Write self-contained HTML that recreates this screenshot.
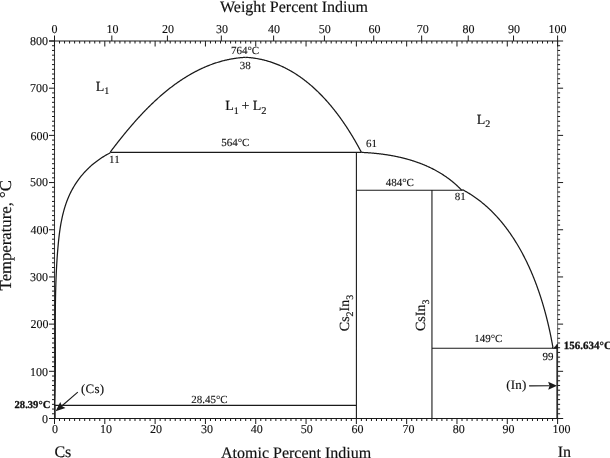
<!DOCTYPE html>
<html><head><meta charset="utf-8"><style>
html,body{margin:0;padding:0;background:#fff;width:610px;height:458px;overflow:hidden}
svg{display:block}
text{font-family:"Liberation Serif","Times New Roman",serif;fill:#111;stroke:#111;text-rendering:geometricPrecision}
</style></head><body>
<svg width="610" height="458" viewBox="0 0 610 458">
<path d="M54.5,41.0V418.5" stroke="#333" stroke-width="1.05" fill="none"/>
<path d="M557.6,41.0V418.5" stroke="#707070" stroke-width="1.05" fill="none"/>
<path d="M557.1,344.59V418.5" stroke="#1a1a1a" stroke-width="1.4" fill="none"/>
<path d="M55.1,405V418.5" stroke="#1a1a1a" stroke-width="1.2" fill="none"/>
<path d="M49.0,41.0H557.6M49.0,418.5H563.1" stroke="#1a1a1a" stroke-width="1.05" fill="none"/>
<path d="M54.50,418.5v5.5 M54.50,41.0v5.5 M59.53,418.5v2.5 M59.53,41.0v2.5 M64.56,418.5v2.5 M64.56,41.0v2.5 M69.59,418.5v2.5 M69.59,41.0v2.5 M74.62,418.5v2.5 M74.62,41.0v2.5 M79.66,418.5v2.5 M79.66,41.0v2.5 M84.69,418.5v2.5 M84.69,41.0v2.5 M89.72,418.5v2.5 M89.72,41.0v2.5 M94.75,418.5v2.5 M94.75,41.0v2.5 M99.78,418.5v2.5 M99.78,41.0v2.5 M104.81,418.5v5.5 M104.81,41.0v5.5 M109.84,418.5v2.5 M109.84,41.0v2.5 M114.87,418.5v2.5 M114.87,41.0v2.5 M119.90,418.5v2.5 M119.90,41.0v2.5 M124.93,418.5v2.5 M124.93,41.0v2.5 M129.97,418.5v2.5 M129.97,41.0v2.5 M135.00,418.5v2.5 M135.00,41.0v2.5 M140.03,418.5v2.5 M140.03,41.0v2.5 M145.06,418.5v2.5 M145.06,41.0v2.5 M150.09,418.5v2.5 M150.09,41.0v2.5 M155.12,418.5v5.5 M155.12,41.0v5.5 M160.15,418.5v2.5 M160.15,41.0v2.5 M165.18,418.5v2.5 M165.18,41.0v2.5 M170.21,418.5v2.5 M170.21,41.0v2.5 M175.24,418.5v2.5 M175.24,41.0v2.5 M180.28,418.5v2.5 M180.28,41.0v2.5 M185.31,418.5v2.5 M185.31,41.0v2.5 M190.34,418.5v2.5 M190.34,41.0v2.5 M195.37,418.5v2.5 M195.37,41.0v2.5 M200.40,418.5v2.5 M200.40,41.0v2.5 M205.43,418.5v5.5 M205.43,41.0v5.5 M210.46,418.5v2.5 M210.46,41.0v2.5 M215.49,418.5v2.5 M215.49,41.0v2.5 M220.52,418.5v2.5 M220.52,41.0v2.5 M225.55,418.5v2.5 M225.55,41.0v2.5 M230.59,418.5v2.5 M230.59,41.0v2.5 M235.62,418.5v2.5 M235.62,41.0v2.5 M240.65,418.5v2.5 M240.65,41.0v2.5 M245.68,418.5v2.5 M245.68,41.0v2.5 M250.71,418.5v2.5 M250.71,41.0v2.5 M255.74,418.5v5.5 M255.74,41.0v5.5 M260.77,418.5v2.5 M260.77,41.0v2.5 M265.80,418.5v2.5 M265.80,41.0v2.5 M270.83,418.5v2.5 M270.83,41.0v2.5 M275.86,418.5v2.5 M275.86,41.0v2.5 M280.89,418.5v2.5 M280.89,41.0v2.5 M285.93,418.5v2.5 M285.93,41.0v2.5 M290.96,418.5v2.5 M290.96,41.0v2.5 M295.99,418.5v2.5 M295.99,41.0v2.5 M301.02,418.5v2.5 M301.02,41.0v2.5 M306.05,418.5v5.5 M306.05,41.0v5.5 M311.08,418.5v2.5 M311.08,41.0v2.5 M316.11,418.5v2.5 M316.11,41.0v2.5 M321.14,418.5v2.5 M321.14,41.0v2.5 M326.17,418.5v2.5 M326.17,41.0v2.5 M331.20,418.5v2.5 M331.20,41.0v2.5 M336.24,418.5v2.5 M336.24,41.0v2.5 M341.27,418.5v2.5 M341.27,41.0v2.5 M346.30,418.5v2.5 M346.30,41.0v2.5 M351.33,418.5v2.5 M351.33,41.0v2.5 M356.36,418.5v5.5 M356.36,41.0v5.5 M361.39,418.5v2.5 M361.39,41.0v2.5 M366.42,418.5v2.5 M366.42,41.0v2.5 M371.45,418.5v2.5 M371.45,41.0v2.5 M376.48,418.5v2.5 M376.48,41.0v2.5 M381.51,418.5v2.5 M381.51,41.0v2.5 M386.55,418.5v2.5 M386.55,41.0v2.5 M391.58,418.5v2.5 M391.58,41.0v2.5 M396.61,418.5v2.5 M396.61,41.0v2.5 M401.64,418.5v2.5 M401.64,41.0v2.5 M406.67,418.5v5.5 M406.67,41.0v5.5 M411.70,418.5v2.5 M411.70,41.0v2.5 M416.73,418.5v2.5 M416.73,41.0v2.5 M421.76,418.5v2.5 M421.76,41.0v2.5 M426.79,418.5v2.5 M426.79,41.0v2.5 M431.82,418.5v2.5 M431.82,41.0v2.5 M436.86,418.5v2.5 M436.86,41.0v2.5 M441.89,418.5v2.5 M441.89,41.0v2.5 M446.92,418.5v2.5 M446.92,41.0v2.5 M451.95,418.5v2.5 M451.95,41.0v2.5 M456.98,418.5v5.5 M456.98,41.0v5.5 M462.01,418.5v2.5 M462.01,41.0v2.5 M467.04,418.5v2.5 M467.04,41.0v2.5 M472.07,418.5v2.5 M472.07,41.0v2.5 M477.10,418.5v2.5 M477.10,41.0v2.5 M482.13,418.5v2.5 M482.13,41.0v2.5 M487.17,418.5v2.5 M487.17,41.0v2.5 M492.20,418.5v2.5 M492.20,41.0v2.5 M497.23,418.5v2.5 M497.23,41.0v2.5 M502.26,418.5v2.5 M502.26,41.0v2.5 M507.29,418.5v5.5 M507.29,41.0v5.5 M512.32,418.5v2.5 M512.32,41.0v2.5 M517.35,418.5v2.5 M517.35,41.0v2.5 M522.38,418.5v2.5 M522.38,41.0v2.5 M527.41,418.5v2.5 M527.41,41.0v2.5 M532.44,418.5v2.5 M532.44,41.0v2.5 M537.48,418.5v2.5 M537.48,41.0v2.5 M542.51,418.5v2.5 M542.51,41.0v2.5 M547.54,418.5v2.5 M547.54,41.0v2.5 M552.57,418.5v2.5 M552.57,41.0v2.5 M557.60,418.5v5.5 M557.60,41.0v5.5 M54.50,41.0v-5.5 M111.83,41.0v-5.5 M167.41,41.0v-5.5 M221.32,41.0v-5.5 M273.63,41.0v-5.5 M324.42,41.0v-5.5 M373.74,41.0v-5.5 M421.66,41.0v-5.5 M468.24,41.0v-5.5 M513.54,41.0v-5.5 M557.60,41.0v-5.5 M54.5,418.50h-5.5 M557.6,418.50h5.5 M54.5,413.78h-2.5 M557.6,413.78h2.5 M54.5,409.06h-2.5 M557.6,409.06h2.5 M54.5,404.34h-2.5 M557.6,404.34h2.5 M54.5,399.62h-2.5 M557.6,399.62h2.5 M54.5,394.91h-2.5 M557.6,394.91h2.5 M54.5,390.19h-2.5 M557.6,390.19h2.5 M54.5,385.47h-2.5 M557.6,385.47h2.5 M54.5,380.75h-2.5 M557.6,380.75h2.5 M54.5,376.03h-2.5 M557.6,376.03h2.5 M54.5,371.31h-5.5 M557.6,371.31h5.5 M54.5,366.59h-2.5 M557.6,366.59h2.5 M54.5,361.88h-2.5 M557.6,361.88h2.5 M54.5,357.16h-2.5 M557.6,357.16h2.5 M54.5,352.44h-2.5 M557.6,352.44h2.5 M54.5,347.72h-2.5 M557.6,347.72h2.5 M54.5,343.00h-2.5 M557.6,343.00h2.5 M54.5,338.28h-2.5 M557.6,338.28h2.5 M54.5,333.56h-2.5 M557.6,333.56h2.5 M54.5,328.84h-2.5 M557.6,328.84h2.5 M54.5,324.12h-5.5 M557.6,324.12h5.5 M54.5,319.41h-2.5 M557.6,319.41h2.5 M54.5,314.69h-2.5 M557.6,314.69h2.5 M54.5,309.97h-2.5 M557.6,309.97h2.5 M54.5,305.25h-2.5 M557.6,305.25h2.5 M54.5,300.53h-2.5 M557.6,300.53h2.5 M54.5,295.81h-2.5 M557.6,295.81h2.5 M54.5,291.09h-2.5 M557.6,291.09h2.5 M54.5,286.38h-2.5 M557.6,286.38h2.5 M54.5,281.66h-2.5 M557.6,281.66h2.5 M54.5,276.94h-5.5 M557.6,276.94h5.5 M54.5,272.22h-2.5 M557.6,272.22h2.5 M54.5,267.50h-2.5 M557.6,267.50h2.5 M54.5,262.78h-2.5 M557.6,262.78h2.5 M54.5,258.06h-2.5 M557.6,258.06h2.5 M54.5,253.34h-2.5 M557.6,253.34h2.5 M54.5,248.62h-2.5 M557.6,248.62h2.5 M54.5,243.91h-2.5 M557.6,243.91h2.5 M54.5,239.19h-2.5 M557.6,239.19h2.5 M54.5,234.47h-2.5 M557.6,234.47h2.5 M54.5,229.75h-5.5 M557.6,229.75h5.5 M54.5,225.03h-2.5 M557.6,225.03h2.5 M54.5,220.31h-2.5 M557.6,220.31h2.5 M54.5,215.59h-2.5 M557.6,215.59h2.5 M54.5,210.88h-2.5 M557.6,210.88h2.5 M54.5,206.16h-2.5 M557.6,206.16h2.5 M54.5,201.44h-2.5 M557.6,201.44h2.5 M54.5,196.72h-2.5 M557.6,196.72h2.5 M54.5,192.00h-2.5 M557.6,192.00h2.5 M54.5,187.28h-2.5 M557.6,187.28h2.5 M54.5,182.56h-5.5 M557.6,182.56h5.5 M54.5,177.84h-2.5 M557.6,177.84h2.5 M54.5,173.12h-2.5 M557.6,173.12h2.5 M54.5,168.41h-2.5 M557.6,168.41h2.5 M54.5,163.69h-2.5 M557.6,163.69h2.5 M54.5,158.97h-2.5 M557.6,158.97h2.5 M54.5,154.25h-2.5 M557.6,154.25h2.5 M54.5,149.53h-2.5 M557.6,149.53h2.5 M54.5,144.81h-2.5 M557.6,144.81h2.5 M54.5,140.09h-2.5 M557.6,140.09h2.5 M54.5,135.38h-5.5 M557.6,135.38h5.5 M54.5,130.66h-2.5 M557.6,130.66h2.5 M54.5,125.94h-2.5 M557.6,125.94h2.5 M54.5,121.22h-2.5 M557.6,121.22h2.5 M54.5,116.50h-2.5 M557.6,116.50h2.5 M54.5,111.78h-2.5 M557.6,111.78h2.5 M54.5,107.06h-2.5 M557.6,107.06h2.5 M54.5,102.34h-2.5 M557.6,102.34h2.5 M54.5,97.62h-2.5 M557.6,97.62h2.5 M54.5,92.91h-2.5 M557.6,92.91h2.5 M54.5,88.19h-5.5 M557.6,88.19h5.5 M54.5,83.47h-2.5 M557.6,83.47h2.5 M54.5,78.75h-2.5 M557.6,78.75h2.5 M54.5,74.03h-2.5 M557.6,74.03h2.5 M54.5,69.31h-2.5 M557.6,69.31h2.5 M54.5,64.59h-2.5 M557.6,64.59h2.5 M54.5,59.88h-2.5 M557.6,59.88h2.5 M54.5,55.16h-2.5 M557.6,55.16h2.5 M54.5,50.44h-2.5 M557.6,50.44h2.5 M54.5,45.72h-2.5 M557.6,45.72h2.5 M54.5,41.00h-5.5 M557.6,41.00h5.5" stroke="#1a1a1a" stroke-width="1" fill="none"/>
<path d="M54.90,405.00 L54.80,403.78 L54.84,402.53 L54.88,401.27 L54.91,400.02 L54.95,398.77 L54.98,397.52 L55.01,396.26 L55.04,395.01 L55.06,393.76 L55.09,392.51 L55.11,391.26 L55.13,390.01 L55.15,388.76 L55.17,387.52 L55.19,386.27 L55.21,385.02 L55.23,383.77 L55.24,382.53 L55.25,381.28 L55.27,380.03 L55.28,378.79 L55.29,377.54 L55.30,376.30 L55.31,375.06 L55.31,373.81 L55.32,372.57 L55.33,371.33 L55.33,370.08 L55.34,368.84 L55.34,367.60 L55.34,366.36 L55.34,365.12 L55.35,363.87 L55.35,362.63 L55.35,361.39 L55.35,360.15 L55.35,358.91 L55.35,357.67 L55.34,356.43 L55.34,355.19 L55.34,353.96 L55.34,352.72 L55.34,351.48 L55.33,350.24 L55.33,349.00 L55.33,347.76 L55.32,346.53 L55.32,345.29 L55.32,344.05 L55.31,342.81 L55.31,341.58 L55.31,340.34 L55.30,339.10 L55.30,337.87 L55.30,336.63 L55.29,335.39 L55.29,334.16 L55.29,332.92 L55.29,331.68 L55.29,330.45 L55.28,329.21 L55.28,327.98 L55.28,326.74 L55.28,325.50 L55.29,324.27 L55.29,323.03 L55.29,321.80 L55.29,320.56 L55.30,319.32 L55.30,318.09 L55.30,316.85 L55.31,315.62 L55.32,314.38 L55.33,313.14 L55.33,311.91 L55.34,310.67 L55.35,309.44 L55.37,308.20 L55.38,306.96 L55.39,305.73 L55.41,304.49 L55.42,303.25 L55.44,302.02 L55.46,300.78 L55.48,299.54 L55.50,298.30 L55.52,297.07 L55.54,295.83 L55.57,294.59 L55.60,293.35 L55.62,292.11 L55.65,290.88 L55.69,289.64 L55.72,288.40 L55.75,287.16 L55.79,285.92 L55.83,284.68 L55.87,283.44 L55.91,282.20 L55.95,280.96 L56.00,279.72 L56.05,278.48 L56.09,277.24 L56.15,275.99 L56.20,274.75 L56.25,273.51 L56.31,272.27 L56.37,271.03 L56.43,269.78 L56.50,268.54 L56.56,267.29 L56.63,266.05 L56.70,264.81 L56.77,263.56 L56.85,262.31 L56.93,261.07 L57.01,259.82 L57.09,258.58 L57.18,257.33 L57.26,256.08 L57.35,254.83 L57.45,253.58 L57.54,252.33 L57.64,251.08 L57.74,249.83 L57.85,248.58 L57.95,247.33 L58.07,246.08 L58.18,244.83 L58.30,243.58 L58.42,242.33 L58.54,241.08 L58.67,239.83 L58.81,238.58 L58.95,237.33 L59.10,236.08 L59.25,234.84 L59.41,233.59 L59.57,232.35 L59.74,231.10 L59.92,229.86 L60.10,228.63 L60.29,227.39 L60.49,226.16 L60.70,224.93 L60.91,223.70 L61.14,222.47 L61.37,221.25 L61.61,220.03 L61.86,218.81 L62.12,217.60 L62.39,216.39 L62.67,215.19 L62.96,213.99 L63.26,212.79 L63.58,211.60 L63.90,210.41 L64.23,209.23 L64.58,208.05 L64.94,206.87 L65.31,205.70 L65.69,204.54 L66.09,203.38 L66.50,202.23 L66.92,201.08 L67.36,199.94 L67.81,198.81 L68.28,197.68 L68.76,196.56 L69.25,195.44 L69.76,194.33 L70.28,193.23 L70.82,192.14 L71.38,191.05 L71.95,189.97 L72.54,188.90 L73.14,187.83 L73.76,186.77 L74.39,185.73 L75.04,184.69 L75.70,183.65 L76.38,182.63 L77.07,181.62 L77.77,180.61 L78.49,179.62 L79.23,178.63 L79.98,177.65 L80.74,176.69 L81.52,175.73 L82.31,174.78 L83.11,173.84 L83.93,172.92 L84.77,172.00 L85.61,171.10 L86.47,170.20 L87.35,169.32 L88.23,168.45 L89.13,167.59 L90.05,166.74 L90.97,165.90 L91.91,165.08 L92.86,164.27 L93.83,163.47 L94.81,162.68 L95.80,161.91 L96.80,161.15 L97.82,160.40 L98.84,159.67 L99.88,158.94 L100.94,158.24 L102.00,157.54 L103.08,156.86 L104.16,156.20 L105.26,155.55 L106.38,154.91 L107.50,154.29 L108.63,153.68 L109.78,153.09 L110.40,152.30" stroke="#1a1a1a" stroke-width="1.25" fill="none"/>
<path d="M110.40,152.30 L110.78,151.41 L111.24,150.81 L111.69,150.20 L112.15,149.60 L112.61,148.99 L113.07,148.39 L113.54,147.78 L114.00,147.18 L114.47,146.57 L114.93,145.96 L115.40,145.36 L115.87,144.75 L116.34,144.15 L116.81,143.54 L117.28,142.94 L117.76,142.33 L118.23,141.72 L118.71,141.12 L119.19,140.51 L119.67,139.91 L120.15,139.30 L120.63,138.70 L121.11,138.09 L121.59,137.49 L122.08,136.89 L122.57,136.28 L123.05,135.68 L123.54,135.08 L124.03,134.47 L124.53,133.87 L125.02,133.27 L125.51,132.67 L126.01,132.07 L126.51,131.47 L127.00,130.87 L127.50,130.27 L128.00,129.67 L128.51,129.07 L129.01,128.48 L129.52,127.88 L130.02,127.28 L130.53,126.69 L131.04,126.09 L131.55,125.50 L132.06,124.91 L132.57,124.32 L133.09,123.73 L133.60,123.14 L134.12,122.55 L134.64,121.96 L135.16,121.37 L135.68,120.78 L136.21,120.20 L136.73,119.61 L137.26,119.03 L137.78,118.45 L138.31,117.87 L138.84,117.29 L139.37,116.71 L139.91,116.13 L140.44,115.55 L140.98,114.98 L141.52,114.40 L142.05,113.83 L142.59,113.26 L143.14,112.69 L143.68,112.12 L144.22,111.55 L144.77,110.99 L145.32,110.42 L145.87,109.86 L146.42,109.30 L146.97,108.74 L147.53,108.18 L148.08,107.62 L148.64,107.07 L149.20,106.51 L149.76,105.96 L150.32,105.41 L150.88,104.86 L151.45,104.31 L152.01,103.77 L152.58,103.22 L153.15,102.68 L153.72,102.14 L154.29,101.60 L154.87,101.07 L155.44,100.53 L156.02,100.00 L156.60,99.47 L157.18,98.94 L157.76,98.41 L158.35,97.89 L158.93,97.37 L159.52,96.85 L160.11,96.33 L160.70,95.81 L161.29,95.30 L161.88,94.79 L162.48,94.28 L163.07,93.77 L163.67,93.26 L164.27,92.76 L164.87,92.26 L165.48,91.76 L166.08,91.26 L166.69,90.77 L167.30,90.28 L167.91,89.79 L168.52,89.30 L169.13,88.82 L169.75,88.34 L170.37,87.86 L170.98,87.38 L171.60,86.91 L172.23,86.44 L172.85,85.97 L173.48,85.50 L174.10,85.04 L174.73,84.58 L175.36,84.12 L176.00,83.67 L176.63,83.21 L177.27,82.76 L177.90,82.32 L178.54,81.87 L179.18,81.43 L179.83,80.99 L180.47,80.56 L181.12,80.13 L181.77,79.70 L182.42,79.27 L183.07,78.85 L183.72,78.43 L184.38,78.01 L185.04,77.60 L185.70,77.19 L186.36,76.78 L187.02,76.37 L187.69,75.97 L188.35,75.57 L189.02,75.18 L189.69,74.79 L190.36,74.40 L191.04,74.02 L191.71,73.63 L192.39,73.26 L193.07,72.88 L193.75,72.51 L194.43,72.15 L195.12,71.78 L195.81,71.42 L196.49,71.07 L197.18,70.71 L197.88,70.37 L198.57,70.02 L199.27,69.68 L199.96,69.34 L200.66,69.01 L201.36,68.68 L202.07,68.35 L202.77,68.03 L203.48,67.71 L204.19,67.40 L204.89,67.09 L205.61,66.79 L206.32,66.48 L207.04,66.19 L207.75,65.89 L208.47,65.61 L209.19,65.32 L209.91,65.04 L210.64,64.77 L211.36,64.49 L212.09,64.23 L212.82,63.96 L213.55,63.71 L214.28,63.45 L215.02,63.20 L215.76,62.96 L216.49,62.72 L217.23,62.48 L217.98,62.25 L218.72,62.03 L219.47,61.81 L220.21,61.59 L220.96,61.38 L221.71,61.17 L222.46,60.97 L223.22,60.77 L223.97,60.58 L224.73,60.39 L225.49,60.21 L226.25,60.03 L227.01,59.86 L227.78,59.69 L228.55,59.53 L229.31,59.38 L230.08,59.22 L230.86,59.08 L231.63,58.94 L232.40,58.80 L233.18,58.67 L233.96,58.55 L234.74,58.43 L235.52,58.31 L236.31,58.20 L237.09,58.10 L237.88,58.00 L238.67,57.91 L239.46,57.82 L240.25,57.74 L241.04,57.67 L241.84,57.60 L242.64,57.53 L243.44,57.48 L244.24,57.42 L245.04,57.38 L245.70,57.60" stroke="#1a1a1a" stroke-width="1.25" fill="none"/>
<path d="M245.70,57.60 L246.21,57.34 L246.96,57.39 L247.71,57.44 L248.45,57.50 L249.19,57.56 L249.93,57.63 L250.67,57.71 L251.40,57.79 L252.14,57.87 L252.87,57.97 L253.60,58.06 L254.32,58.17 L255.05,58.27 L255.77,58.39 L256.49,58.50 L257.21,58.63 L257.93,58.75 L258.64,58.89 L259.35,59.03 L260.06,59.17 L260.77,59.32 L261.47,59.47 L262.18,59.63 L262.88,59.79 L263.58,59.96 L264.28,60.14 L264.97,60.31 L265.66,60.50 L266.35,60.69 L267.04,60.88 L267.73,61.08 L268.41,61.28 L269.10,61.49 L269.78,61.70 L270.46,61.91 L271.13,62.14 L271.81,62.36 L272.48,62.59 L273.15,62.83 L273.82,63.07 L274.48,63.31 L275.15,63.56 L275.81,63.81 L276.47,64.07 L277.12,64.33 L277.78,64.60 L278.43,64.87 L279.08,65.14 L279.73,65.42 L280.38,65.70 L281.03,65.99 L281.67,66.28 L282.31,66.58 L282.95,66.88 L283.59,67.18 L284.22,67.49 L284.85,67.80 L285.48,68.12 L286.11,68.44 L286.74,68.76 L287.36,69.09 L287.99,69.43 L288.61,69.76 L289.23,70.10 L289.84,70.45 L290.46,70.79 L291.07,71.14 L291.68,71.50 L292.29,71.86 L292.89,72.22 L293.50,72.59 L294.10,72.96 L294.70,73.33 L295.30,73.71 L295.89,74.09 L296.49,74.47 L297.08,74.86 L297.67,75.25 L298.26,75.65 L298.84,76.04 L299.43,76.45 L300.01,76.85 L300.59,77.26 L301.17,77.67 L301.74,78.09 L302.32,78.50 L302.89,78.93 L303.46,79.35 L304.02,79.78 L304.59,80.21 L305.15,80.64 L305.72,81.08 L306.28,81.52 L306.83,81.96 L307.39,82.41 L307.94,82.86 L308.49,83.31 L309.04,83.77 L309.59,84.22 L310.14,84.68 L310.68,85.15 L311.22,85.61 L311.76,86.08 L312.30,86.56 L312.84,87.03 L313.37,87.51 L313.90,87.99 L314.43,88.47 L314.96,88.96 L315.49,89.45 L316.01,89.94 L316.53,90.43 L317.05,90.93 L317.57,91.42 L318.09,91.92 L318.60,92.43 L319.11,92.93 L319.62,93.44 L320.13,93.95 L320.64,94.46 L321.14,94.98 L321.64,95.50 L322.14,96.01 L322.64,96.54 L323.14,97.06 L323.63,97.59 L324.12,98.11 L324.62,98.64 L325.10,99.18 L325.59,99.71 L326.08,100.25 L326.56,100.79 L327.04,101.33 L327.52,101.87 L327.99,102.41 L328.47,102.96 L328.94,103.51 L329.41,104.06 L329.88,104.61 L330.35,105.16 L330.82,105.72 L331.28,106.27 L331.74,106.83 L332.20,107.39 L332.66,107.95 L333.11,108.52 L333.57,109.08 L334.02,109.65 L334.47,110.21 L334.92,110.78 L335.36,111.35 L335.81,111.93 L336.25,112.50 L336.69,113.08 L337.13,113.65 L337.56,114.23 L338.00,114.81 L338.43,115.39 L338.86,115.97 L339.29,116.55 L339.72,117.14 L340.14,117.72 L340.57,118.31 L340.99,118.90 L341.41,119.49 L341.83,120.08 L342.24,120.67 L342.65,121.26 L343.07,121.85 L343.48,122.44 L343.88,123.04 L344.29,123.63 L344.69,124.23 L345.10,124.83 L345.50,125.42 L345.90,126.02 L346.29,126.62 L346.69,127.22 L347.08,127.82 L347.47,128.42 L347.86,129.03 L348.25,129.63 L348.63,130.23 L349.02,130.84 L349.40,131.44 L349.78,132.05 L350.16,132.65 L350.53,133.26 L350.91,133.86 L351.28,134.47 L351.65,135.08 L352.02,135.68 L352.39,136.29 L352.75,136.90 L353.12,137.51 L353.48,138.11 L353.84,138.72 L354.19,139.33 L354.55,139.94 L354.90,140.55 L355.26,141.16 L355.61,141.77 L355.95,142.38 L356.30,142.99 L356.65,143.59 L356.99,144.20 L357.33,144.81 L357.67,145.42 L358.01,146.03 L358.34,146.64 L358.68,147.25 L359.01,147.86 L359.34,148.46 L359.67,149.07 L359.99,149.68 L360.32,150.28 L360.64,150.89 L360.96,151.50 L361.33,152.36" stroke="#1a1a1a" stroke-width="1.25" fill="none"/>
<path d="M361.33,152.36 L361.85,152.41 L362.35,152.43 L362.85,152.45 L363.34,152.48 L363.84,152.50 L364.34,152.53 L364.84,152.56 L365.34,152.59 L365.83,152.62 L366.33,152.65 L366.83,152.68 L367.33,152.71 L367.83,152.74 L368.33,152.78 L368.83,152.81 L369.33,152.85 L369.83,152.89 L370.33,152.92 L370.83,152.96 L371.33,153.00 L371.83,153.04 L372.33,153.09 L372.83,153.13 L373.33,153.18 L373.83,153.22 L374.33,153.27 L374.83,153.32 L375.33,153.36 L375.83,153.42 L376.33,153.47 L376.83,153.52 L377.33,153.57 L377.83,153.63 L378.33,153.68 L378.83,153.74 L379.33,153.80 L379.83,153.86 L380.33,153.92 L380.83,153.98 L381.33,154.04 L381.83,154.10 L382.33,154.17 L382.83,154.24 L383.33,154.30 L383.83,154.37 L384.33,154.44 L384.83,154.51 L385.33,154.58 L385.83,154.66 L386.33,154.73 L386.83,154.81 L387.32,154.89 L387.82,154.96 L388.32,155.04 L388.82,155.13 L389.32,155.21 L389.81,155.29 L390.31,155.38 L390.81,155.46 L391.31,155.55 L391.80,155.64 L392.30,155.73 L392.80,155.82 L393.29,155.91 L393.79,156.01 L394.28,156.10 L394.78,156.20 L395.27,156.30 L395.77,156.40 L396.26,156.50 L396.75,156.60 L397.25,156.70 L397.74,156.81 L398.23,156.91 L398.73,157.02 L399.22,157.13 L399.71,157.24 L400.20,157.35 L400.69,157.47 L401.18,157.58 L401.67,157.70 L402.16,157.82 L402.65,157.94 L403.14,158.06 L403.63,158.18 L404.12,158.30 L404.61,158.43 L405.09,158.55 L405.58,158.68 L406.07,158.81 L406.55,158.94 L407.04,159.07 L407.52,159.21 L408.01,159.34 L408.49,159.48 L408.97,159.62 L409.46,159.76 L409.94,159.90 L410.42,160.04 L410.90,160.19 L411.38,160.34 L411.86,160.48 L412.34,160.63 L412.82,160.78 L413.30,160.94 L413.78,161.09 L414.25,161.25 L414.73,161.40 L415.20,161.56 L415.68,161.72 L416.15,161.89 L416.63,162.05 L417.10,162.22 L417.57,162.38 L418.04,162.55 L418.52,162.72 L418.99,162.90 L419.46,163.07 L419.92,163.25 L420.39,163.42 L420.86,163.60 L421.33,163.78 L421.79,163.96 L422.26,164.15 L422.72,164.33 L423.19,164.52 L423.65,164.71 L424.11,164.90 L424.57,165.09 L425.03,165.29 L425.49,165.49 L425.95,165.68 L426.41,165.88 L426.87,166.08 L427.32,166.29 L427.78,166.49 L428.23,166.70 L428.69,166.91 L429.14,167.12 L429.59,167.33 L430.04,167.55 L430.49,167.76 L430.94,167.98 L431.39,168.20 L431.84,168.42 L432.29,168.64 L432.73,168.87 L433.18,169.10 L433.62,169.33 L434.06,169.56 L434.50,169.79 L434.95,170.02 L435.39,170.26 L435.82,170.50 L436.26,170.74 L436.70,170.98 L437.13,171.23 L437.57,171.47 L438.00,171.72 L438.44,171.97 L438.87,172.22 L439.30,172.48 L439.73,172.73 L440.16,172.99 L440.58,173.25 L441.01,173.51 L441.44,173.77 L441.86,174.04 L442.28,174.31 L442.70,174.58 L443.12,174.85 L443.54,175.12 L443.96,175.40 L444.38,175.68 L444.80,175.96 L445.21,176.24 L445.62,176.52 L446.04,176.81 L446.45,177.10 L446.86,177.39 L447.27,177.68 L447.68,177.97 L448.08,178.27 L448.49,178.57 L448.89,178.87 L449.29,179.17 L449.69,179.48 L450.09,179.78 L450.49,180.09 L450.89,180.40 L451.29,180.72 L451.68,181.03 L452.08,181.35 L452.47,181.67 L452.86,181.99 L453.25,182.32 L453.64,182.64 L454.02,182.97 L454.41,183.30 L454.79,183.63 L455.18,183.97 L455.56,184.31 L455.94,184.65 L456.32,184.99 L456.69,185.33 L457.07,185.68 L457.44,186.03 L457.82,186.38 L458.19,186.73 L458.56,187.09 L458.93,187.44 L459.30,187.80 L459.66,188.16 L460.03,188.53 L460.39,188.90 L460.75,189.26 L461.11,189.64 L461.47,190.01 L461.93,190.11" stroke="#1a1a1a" stroke-width="1.25" fill="none"/>
<path d="M461.93,190.11 L462.97,189.89 L463.74,190.31 L464.52,190.74 L465.28,191.17 L466.04,191.60 L466.80,192.05 L467.55,192.49 L468.30,192.94 L469.05,193.40 L469.79,193.86 L470.53,194.32 L471.26,194.79 L471.99,195.27 L472.71,195.74 L473.43,196.23 L474.14,196.72 L474.85,197.21 L475.56,197.71 L476.26,198.21 L476.96,198.72 L477.66,199.23 L478.35,199.74 L479.03,200.26 L479.72,200.79 L480.40,201.31 L481.07,201.85 L481.74,202.38 L482.41,202.92 L483.07,203.47 L483.73,204.02 L484.38,204.57 L485.03,205.13 L485.68,205.69 L486.32,206.26 L486.96,206.83 L487.60,207.40 L488.23,207.98 L488.85,208.56 L489.48,209.14 L490.10,209.73 L490.71,210.32 L491.33,210.92 L491.93,211.52 L492.54,212.13 L493.14,212.73 L493.74,213.34 L494.33,213.96 L494.92,214.58 L495.51,215.20 L496.09,215.82 L496.67,216.45 L497.24,217.08 L497.82,217.72 L498.38,218.36 L498.95,219.00 L499.51,219.65 L500.07,220.29 L500.62,220.95 L501.17,221.60 L501.72,222.26 L502.26,222.92 L502.80,223.59 L503.34,224.25 L503.88,224.92 L504.41,225.60 L504.93,226.27 L505.46,226.95 L505.98,227.63 L506.49,228.32 L507.01,229.01 L507.52,229.70 L508.02,230.39 L508.53,231.09 L509.03,231.78 L509.52,232.49 L510.02,233.19 L510.51,233.90 L510.99,234.61 L511.48,235.32 L511.96,236.03 L512.44,236.75 L512.91,237.47 L513.38,238.19 L513.85,238.91 L514.32,239.64 L514.78,240.36 L515.24,241.09 L515.70,241.83 L516.15,242.56 L516.60,243.30 L517.05,244.04 L517.49,244.78 L517.93,245.52 L518.37,246.27 L518.81,247.01 L519.24,247.76 L519.67,248.52 L520.10,249.27 L520.52,250.02 L520.94,250.78 L521.36,251.54 L521.77,252.30 L522.19,253.06 L522.59,253.83 L523.00,254.59 L523.40,255.36 L523.81,256.13 L524.20,256.90 L524.60,257.68 L524.99,258.45 L525.38,259.23 L525.77,260.01 L526.15,260.79 L526.53,261.57 L526.91,262.35 L527.29,263.14 L527.66,263.92 L528.03,264.71 L528.40,265.50 L528.76,266.29 L529.12,267.08 L529.48,267.88 L529.84,268.67 L530.19,269.47 L530.54,270.26 L530.89,271.06 L531.24,271.86 L531.58,272.66 L531.92,273.47 L532.26,274.27 L532.59,275.08 L532.93,275.88 L533.26,276.69 L533.58,277.50 L533.91,278.31 L534.23,279.12 L534.55,279.93 L534.87,280.74 L535.18,281.55 L535.50,282.37 L535.81,283.19 L536.11,284.00 L536.42,284.82 L536.72,285.64 L537.02,286.46 L537.32,287.28 L537.61,288.10 L537.90,288.92 L538.19,289.74 L538.48,290.56 L538.77,291.39 L539.05,292.21 L539.33,293.04 L539.61,293.86 L539.88,294.69 L540.15,295.52 L540.43,296.35 L540.69,297.17 L540.96,298.00 L541.22,298.83 L541.48,299.66 L541.74,300.49 L542.00,301.32 L542.26,302.15 L542.51,302.99 L542.76,303.82 L543.00,304.65 L543.25,305.48 L543.49,306.31 L543.73,307.15 L543.97,307.98 L544.21,308.81 L544.44,309.65 L544.67,310.48 L544.90,311.32 L545.13,312.15 L545.36,312.99 L545.58,313.82 L545.80,314.65 L546.02,315.49 L546.24,316.32 L546.45,317.16 L546.66,317.99 L546.88,318.83 L547.08,319.66 L547.29,320.50 L547.49,321.33 L547.70,322.16 L547.90,323.00 L548.09,323.83 L548.29,324.67 L548.48,325.50 L548.68,326.33 L548.87,327.17 L549.05,328.00 L549.24,328.83 L549.42,329.66 L549.61,330.49 L549.79,331.32 L549.96,332.15 L550.14,332.98 L550.31,333.81 L550.49,334.64 L550.66,335.47 L550.82,336.30 L550.99,337.13 L551.16,337.95 L551.32,338.78 L551.48,339.61 L551.64,340.43 L551.80,341.26 L551.95,342.08 L552.10,342.90 L552.26,343.72 L552.41,344.55 L552.55,345.37 L552.70,346.19 L552.84,347.00 L552.47,348.19" stroke="#1a1a1a" stroke-width="1.25" fill="none"/>
<path d="M110.40,152.35L361.33,152.35 M356.40,152.35L356.40,418.50 M356.40,190.25L461.93,190.25 M431.95,190.25L431.95,418.50 M431.95,348.30L557.30,348.30 M54.50,405.40L356.40,405.40" stroke="#1a1a1a" stroke-width="1.1" fill="none"/>
<path d="M77.80,392.20L61.79,405.98" stroke="#1a1a1a" stroke-width="1.1"/><path d="M55.60,411.30L60.27,402.01L61.79,405.98L65.49,408.07Z" fill="#1a1a1a"/>
<path d="M529.10,385.90L549.52,385.75" stroke="#1a1a1a" stroke-width="1.1"/><path d="M557.00,385.70L548.23,389.66L549.52,385.75L548.17,381.86Z" fill="#1a1a1a"/>
<path d="M557.40,344.19L553.6,348.3L557.40,348.3Z" fill="#1a1a1a" stroke="#1a1a1a" stroke-width="0.6"/>
<text x="55.00" y="433.20" font-size="12" stroke-width="0.12" text-anchor="middle">0</text>
<text x="106.10" y="433.20" font-size="12" stroke-width="0.12" text-anchor="middle">10</text>
<text x="156.00" y="433.20" font-size="12" stroke-width="0.12" text-anchor="middle">20</text>
<text x="207.00" y="433.20" font-size="12" stroke-width="0.12" text-anchor="middle">30</text>
<text x="256.70" y="433.20" font-size="12" stroke-width="0.12" text-anchor="middle">40</text>
<text x="306.70" y="433.20" font-size="12" stroke-width="0.12" text-anchor="middle">50</text>
<text x="357.40" y="433.20" font-size="12" stroke-width="0.12" text-anchor="middle">60</text>
<text x="408.40" y="433.20" font-size="12" stroke-width="0.12" text-anchor="middle">70</text>
<text x="458.80" y="433.20" font-size="12" stroke-width="0.12" text-anchor="middle">80</text>
<text x="508.60" y="433.20" font-size="12" stroke-width="0.12" text-anchor="middle">90</text>
<text x="561.60" y="433.20" font-size="12" stroke-width="0.12" text-anchor="middle">100</text>
<text x="54.60" y="33.20" font-size="12" stroke-width="0.12" text-anchor="middle">0</text>
<text x="112.42" y="33.20" font-size="12" stroke-width="0.12" text-anchor="middle">10</text>
<text x="167.89" y="33.20" font-size="12" stroke-width="0.12" text-anchor="middle">20</text>
<text x="221.89" y="33.20" font-size="12" stroke-width="0.12" text-anchor="middle">30</text>
<text x="274.09" y="33.20" font-size="12" stroke-width="0.12" text-anchor="middle">40</text>
<text x="324.86" y="33.20" font-size="12" stroke-width="0.12" text-anchor="middle">50</text>
<text x="374.47" y="33.20" font-size="12" stroke-width="0.12" text-anchor="middle">60</text>
<text x="422.69" y="33.20" font-size="12" stroke-width="0.12" text-anchor="middle">70</text>
<text x="468.46" y="33.20" font-size="12" stroke-width="0.12" text-anchor="middle">80</text>
<text x="514.05" y="33.20" font-size="12" stroke-width="0.12" text-anchor="middle">90</text>
<text x="557.50" y="33.20" font-size="12" stroke-width="0.12" text-anchor="middle">100</text>
<text x="48.00" y="422.60" font-size="12" stroke-width="0.12" text-anchor="end">0</text>
<text x="47.95" y="375.72" font-size="12" stroke-width="0.12" text-anchor="end">100</text>
<text x="48.45" y="328.35" font-size="12" stroke-width="0.12" text-anchor="end">200</text>
<text x="47.95" y="280.98" font-size="12" stroke-width="0.12" text-anchor="end">300</text>
<text x="48.45" y="233.60" font-size="12" stroke-width="0.12" text-anchor="end">400</text>
<text x="47.95" y="186.22" font-size="12" stroke-width="0.12" text-anchor="end">500</text>
<text x="48.45" y="139.85" font-size="12" stroke-width="0.12" text-anchor="end">600</text>
<text x="47.95" y="92.48" font-size="12" stroke-width="0.12" text-anchor="end">700</text>
<text x="48.00" y="45.30" font-size="12" stroke-width="0.12" text-anchor="end">800</text>
<text x="245.00" y="53.60" font-size="11" stroke-width="0.12" text-anchor="middle">764°C</text>
<text x="245.15" y="69.45" font-size="11" stroke-width="0.12" text-anchor="middle">38</text>
<text x="235.30" y="145.75" font-size="11" stroke-width="0.12" text-anchor="middle">564°C</text>
<text x="114.35" y="162.80" font-size="11" stroke-width="0.12" text-anchor="middle">11</text>
<text x="371.40" y="147.45" font-size="11" stroke-width="0.12" text-anchor="middle">61</text>
<text x="399.85" y="185.70" font-size="11" stroke-width="0.12" text-anchor="middle">484°C</text>
<text x="460.30" y="200.35" font-size="11" stroke-width="0.12" text-anchor="middle">81</text>
<text x="488.25" y="342.20" font-size="11" stroke-width="0.12" text-anchor="middle">149°C</text>
<text x="548.05" y="359.50" font-size="11" stroke-width="0.12" text-anchor="middle">99</text>
<text x="209.40" y="402.70" font-size="11" stroke-width="0.12" text-anchor="middle">28.45°C</text>
<text x="81.00" y="393.15" font-size="13" stroke-width="0.16"><tspan letter-spacing="0.2">(Cs</tspan>)</text>
<text x="506.30" y="389.35" font-size="13" stroke-width="0.16"><tspan letter-spacing="0.2">(In</tspan>)</text>
<text x="50.30" y="407.90" font-size="10.6" stroke-width="0.3" text-anchor="end" font-weight="bold">28.39°C</text>
<text x="563.75" y="348.65" font-size="11" stroke-width="0.3" font-weight="bold">156.634°C</text>
<text x="95.80" y="90.90" font-size="14" stroke-width="0.16">L<tspan font-size="10" dy="3.3">1</tspan></text>
<text x="225.20" y="110.20" font-size="14" stroke-width="0.16">L<tspan font-size="10" dy="3.3">1</tspan><tspan dy="-3.3" dx="-0.8"> +</tspan><tspan dx="-0.1"> L</tspan><tspan font-size="10.5" dy="3.6" dx="-0.2">2</tspan></text>
<text x="476.70" y="124.20" font-size="14" stroke-width="0.16">L<tspan font-size="10" dy="3.1">2</tspan></text>
<text transform="translate(349.30,331.20) rotate(-90)" font-size="14" stroke-width="0.16">Cs<tspan font-size="10" dy="4">2</tspan><tspan dy="-4">In</tspan><tspan font-size="10" dy="4">3</tspan></text>
<text transform="translate(425.10,331.00) rotate(-90)" font-size="14" stroke-width="0.16">CsIn<tspan font-size="10" dy="4">3</tspan></text>
<text x="294.00" y="11.70" font-size="16" stroke-width="0.16" text-anchor="middle">Weight Percent Indium</text>
<text x="296.10" y="457.90" font-size="16" stroke-width="0.16" text-anchor="middle">Atomic Percent Indium</text>
<text x="54.45" y="457.05" font-size="16" stroke-width="0.16">Cs</text>
<text x="557.75" y="457.30" font-size="16" stroke-width="0.16">In</text>
<text transform="translate(11.10,290.40) rotate(-90)" font-size="16.7" stroke-width="0.16">Temperature, °C</text>
</svg>
</body></html>
